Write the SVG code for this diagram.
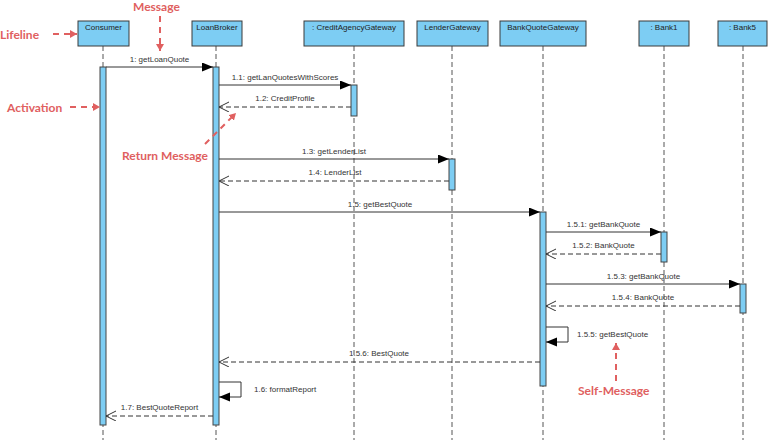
<svg xmlns="http://www.w3.org/2000/svg" width="768" height="440" viewBox="0 0 768 440">
<defs>
<style>
.head{fill:#7dcdf3;stroke:#3a3a3a;stroke-width:1}
.hl{font-family:"Liberation Sans",Arial,sans-serif;font-size:8px;fill:#222;text-anchor:middle}
.life{stroke:#555;stroke-width:1;stroke-dasharray:5,3;fill:none}
.act{fill:#7dcdf3;stroke:#444;stroke-width:1}
.msg{stroke:#333;stroke-width:1;fill:none}
.ret{stroke:#333;stroke-width:1;fill:none;stroke-dasharray:5,3}
.ml{font-family:"Liberation Sans",Arial,sans-serif;font-size:8px;fill:#333;text-anchor:middle}
.mls{font-family:"Liberation Sans",Arial,sans-serif;font-size:8px;fill:#333}
.ann{font-family:"Lato","Liberation Sans",sans-serif;font-weight:bold;font-size:12px;fill:#e06060}
.annl{stroke:#e06060;stroke-width:2;stroke-dasharray:6,5;fill:none}
</style>
<marker id="filled" markerUnits="userSpaceOnUse" markerWidth="12" markerHeight="10" refX="11" refY="4.5" orient="auto">
<path d="M0,0 L11,4.5 L0,9 z" fill="#000"/>
</marker>
<marker id="open" markerUnits="userSpaceOnUse" markerWidth="12" markerHeight="12" refX="10" refY="5" orient="auto">
<path d="M0,0 L10,5 L0,10" fill="none" stroke="#333" stroke-width="1"/>
</marker>
<marker id="red" markerUnits="userSpaceOnUse" markerWidth="10" markerHeight="10" refX="7" refY="4" orient="auto">
<path d="M0,0 L7,4 L0,8 z" fill="#e06060"/>
</marker>
</defs>
<rect width="768" height="440" fill="#fff"/>

<g id="lifelines">
<line class="life" x1="103" y1="46" x2="103" y2="440"/>
<line class="life" x1="216" y1="46" x2="216" y2="440"/>
<line class="life" x1="354" y1="46" x2="354" y2="440"/>
<line class="life" x1="452" y1="46" x2="452" y2="440"/>
<line class="life" x1="543" y1="46" x2="543" y2="440"/>
<line class="life" x1="664" y1="46" x2="664" y2="440"/>
<line class="life" x1="743" y1="46" x2="743" y2="440"/>
</g>

<g id="consumer">
<rect class="head" x="78" y="21" width="51" height="25"/>
<text class="hl" x="103.5" y="29.5">Consumer</text>
<rect class="act" x="100" y="67" width="6" height="358"/>
</g>
<g id="loanbroker">
<rect class="head" x="192" y="21" width="50" height="25"/>
<text class="hl" x="217" y="29.5">LoanBroker</text>
<rect class="act" x="213" y="67" width="6" height="358"/>
</g>
<g id="creditagencygateway">
<rect class="head" x="304" y="21" width="100" height="25"/>
<text class="hl" x="354" y="29.5">: CreditAgencyGateway</text>
<rect class="act" x="351" y="85" width="6" height="31"/>
</g>
<g id="lendergateway">
<rect class="head" x="417" y="21" width="71" height="25"/>
<text class="hl" x="452.5" y="29.5">LenderGateway</text>
<rect class="act" x="449" y="159" width="6" height="31"/>
</g>
<g id="bankquotegateway">
<rect class="head" x="500" y="21" width="86" height="25"/>
<text class="hl" x="543" y="29.5">BankQuoteGateway</text>
<rect class="act" x="540" y="212" width="6" height="174"/>
</g>
<g id="bank1">
<rect class="head" x="639" y="21" width="50" height="25"/>
<text class="hl" x="664" y="29.5">: Bank1</text>
<rect class="act" x="661" y="232" width="6" height="30"/>
</g>
<g id="bank5">
<rect class="head" x="718" y="21" width="49" height="25"/>
<text class="hl" x="742.5" y="29.5">: Bank5</text>
<rect class="act" x="740" y="284" width="6" height="29"/>
</g>

<g id="connectors">
<line class="msg" x1="106" y1="67" x2="213" y2="67" marker-end="url(#filled)"/>
<text class="ml" x="159.5" y="62">1: getLoanQuote</text>

<line class="msg" x1="219" y1="85" x2="351" y2="85" marker-end="url(#filled)"/>
<text class="ml" x="285" y="80">1.1: getLanQuotesWithScores</text>

<line class="ret" x1="351" y1="107" x2="219" y2="107" marker-end="url(#open)"/>
<text class="ml" x="285" y="101">1.2: CreditProfile</text>

<line class="msg" x1="219" y1="159" x2="449" y2="159" marker-end="url(#filled)"/>
<text class="ml" x="334" y="154">1.3: getLenderList</text>

<line class="ret" x1="449" y1="181" x2="219" y2="181" marker-end="url(#open)"/>
<text class="ml" x="335" y="175">1.4: LenderList</text>

<line class="msg" x1="219" y1="212" x2="540" y2="212" marker-end="url(#filled)"/>
<text class="ml" x="380" y="207">1.5: getBestQuote</text>

<line class="msg" x1="546" y1="232" x2="661" y2="232" marker-end="url(#filled)"/>
<text class="ml" x="603.5" y="227">1.5.1: getBankQuote</text>

<line class="ret" x1="661" y1="254" x2="546" y2="254" marker-end="url(#open)"/>
<text class="ml" x="603.5" y="248">1.5.2: BankQuote</text>

<line class="msg" x1="546" y1="284" x2="740" y2="284" marker-end="url(#filled)"/>
<text class="ml" x="643.5" y="279">1.5.3: getBankQuote</text>

<line class="ret" x1="740" y1="306" x2="546" y2="306" marker-end="url(#open)"/>
<text class="ml" x="643" y="300">1.5.4: BankQuote</text>

<polyline class="msg" points="546,327 568,327 568,342 546,342" marker-end="url(#filled)"/>
<text class="mls" x="577" y="337">1.5.5: getBestQuote</text>

<line class="ret" x1="540" y1="362" x2="219" y2="362" marker-end="url(#open)"/>
<text class="ml" x="379" y="356">1.5.6: BestQuote</text>

<polyline class="msg" points="219,382 241,382 241,397 219,397" marker-end="url(#filled)"/>
<text class="mls" x="254" y="392">1.6: formatReport</text>

<line class="ret" x1="213" y1="416" x2="106" y2="416" marker-end="url(#open)"/>
<text class="ml" x="159.5" y="410">1.7: BestQuoteReport</text>
</g>

<g id="annotations">
<text class="ann" x="0" y="38.5">Lifeline</text>
<line class="annl" x1="53" y1="34" x2="77" y2="34" marker-end="url(#red)"/>
<text class="ann" x="133" y="10.5">Message</text>
<line class="annl" x1="160" y1="16" x2="160" y2="51" marker-end="url(#red)"/>
<text class="ann" x="7" y="111.5">Activation</text>
<line class="annl" x1="70" y1="107" x2="100" y2="107" marker-end="url(#red)"/>
<text class="ann" x="122" y="160">Return Message</text>
<line class="annl" x1="205" y1="144" x2="236" y2="113" marker-end="url(#red)"/>
<text class="ann" x="578" y="395">Self-Message</text>
<line class="annl" x1="616" y1="381" x2="616" y2="343" marker-end="url(#red)"/>
</g>
</svg>
